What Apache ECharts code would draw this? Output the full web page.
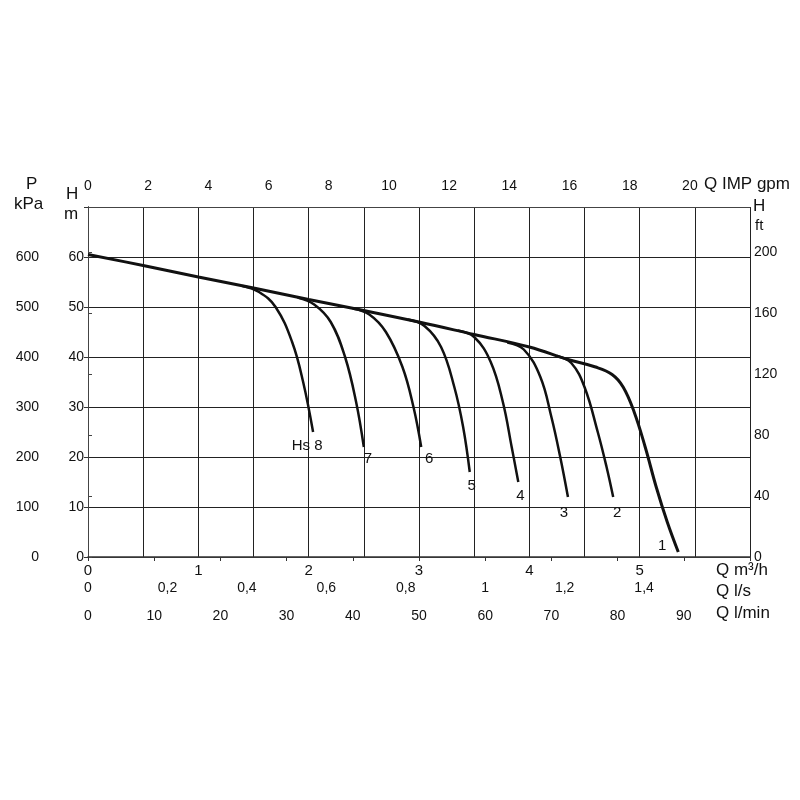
<!DOCTYPE html>
<html>
<head>
<meta charset="utf-8">
<script src="https://cdn.jsdelivr.net/npm/echarts@6/dist/echarts.min.js"></script>
<style>html,body{margin:0;padding:0;background:#fff}#c{width:800px;height:800px}</style>
</head>
<body>
<div id="c"></div>
<script>
// Q in m3/h, H in m
var mainCurve = [[0, 60.5], [0.5, 58.3], [1, 56], [1.5, 53.8], [2, 51.5], [2.5, 49.3], [3, 47], [3.5, 44.5], [4, 42], [4.35, 39.5], [4.6, 38], [4.75, 36.5], [4.85, 34], [4.95, 29], [5.05, 22], [5.15, 14], [5.25, 7], [5.35, 1]];
var branch8 = [[1.4, 54.2], [1.55, 53], [1.7, 50], [1.85, 43], [1.95, 35], [2.04, 25]];
var branch7 = [[1.9, 51.9], [2.05, 50.5], [2.2, 47], [2.33, 40], [2.43, 31], [2.5, 22]];
var branch6 = [[2.4, 49.7], [2.55, 48.5], [2.7, 45], [2.85, 38], [2.95, 30], [3.02, 22]];
var branch5 = [[2.9, 47.5], [3.05, 46.2], [3.2, 42], [3.32, 34], [3.4, 26], [3.46, 17]];
var branch4 = [[3.35, 45.3], [3.5, 44], [3.65, 39], [3.76, 31], [3.84, 22], [3.9, 15]];
var branch3 = [[3.8, 42.9], [3.95, 41.5], [4.1, 36], [4.2, 28], [4.28, 20], [4.35, 12]];
var branch2 = [[4.25, 40.2], [4.38, 38.8], [4.5, 34], [4.62, 25], [4.7, 18], [4.76, 12]];
var branchNames = ['Hs 8', '7', '6', '5', '4', '3', '2'];
var branches = [branch8, branch7, branch6, branch5, branch4, branch3, branch2];

var qMax = 6, hMax = 70;
var m3hToLs = 1 / 3.6, m3hToLmin = 1000 / 60, m3hToGpm = 1 / 0.272765;
var mToKpa = 10, mToFt = 1 / 0.3048;

var txt = {color: '#111', fontFamily: 'Liberation Sans Narrow, Liberation Sans, sans-serif', fontSize: 14};
var labelOffsets = [[-6, 14], [4, 12], [8, 12], [2, 14], [2, 14], [-4, 16], [4, 16]];

function endMark(pt, text, offset) {
    return {symbol: 'circle', symbolSize: 1, itemStyle: {color: 'rgba(0,0,0,0)'},
        data: [{coord: pt, label: {show: true, formatter: text, offset: offset, ...txt, fontSize: 15}}]};
}

var series = [{
    type: 'line', data: mainCurve, smooth: 0.4, symbol: 'none',
    lineStyle: {color: '#111', width: 3},
    markPoint: endMark(mainCurve[mainCurve.length - 1], '1', [-16, -6])
}];
branches.forEach(function (b, i) {
    series.push({
        type: 'line', data: b, smooth: 0.4, symbol: 'none',
        lineStyle: {color: '#111', width: 2.5},
        markPoint: endMark(b[b.length - 1], branchNames[i], labelOffsets[i])
    });
});

function lim(max) {
    return function (v) { return v > max + 1e-9 ? '' : String(+v.toFixed(1)).replace('.', ','); };
}

var chart = echarts.init(document.getElementById('c'));
chart.setOption({
    backgroundColor: '#fff',
    animation: false,
    grid: {left: 88, right: 50, top: 207, bottom: 243},
    xAxis: [
        {type: 'value', min: 0, max: qMax, interval: 0.5, position: 'bottom',
            axisLine: {show: true, lineStyle: {color: '#444'}}, axisTick: {show: false},
            splitLine: {show: true, lineStyle: {color: '#222', width: 1}},
            axisLabel: {formatter: function (v) { return v % 1 === 0 && v < 6 ? v : ''; }, margin: 6, ...txt, fontSize: 15}},
        {type: 'value', min: 0, max: qMax * m3hToLs, interval: 0.2, position: 'bottom', offset: 22,
            axisLine: {show: false}, axisTick: {show: false}, splitLine: {show: false},
            axisLabel: {formatter: lim(1.4), margin: 2, showMaxLabel: false, ...txt}},
        {type: 'value', min: 0, max: qMax * m3hToLmin, interval: 10, position: 'bottom', offset: 45,
            axisLine: {show: true, lineStyle: {color: '#333', width: 1.5}}, axisTick: {show: true, length: 4, lineStyle: {color: '#333'}},
            splitLine: {show: false},
            axisLabel: {formatter: lim(90), margin: 7, ...txt}},
        {type: 'value', min: 0, max: qMax * m3hToGpm, interval: 2, position: 'top',
            axisLine: {show: true, lineStyle: {color: '#444'}}, axisTick: {show: false}, splitLine: {show: false},
            axisLabel: {formatter: lim(20), margin: 14, ...txt}}
    ],
    yAxis: [
        {type: 'value', min: 0, max: hMax, interval: 10, position: 'left',
            axisLine: {show: true, lineStyle: {color: '#444'}}, axisTick: {show: false},
            splitLine: {lineStyle: {color: '#222', width: 1}},
            axisLabel: {formatter: function (v) { return v <= 60 ? v : ''; }, margin: 4, ...txt}},
        {type: 'value', min: 0, max: hMax * mToKpa, interval: 100, position: 'left', offset: 45,
            axisLine: {show: true, lineStyle: {color: '#333'}}, axisTick: {show: true, length: 4},
            splitLine: {show: false},
            axisLabel: {formatter: function (v) { return v <= 600 ? v : ''; }, margin: 4, ...txt}},
        {type: 'value', min: 0, max: hMax * mToFt, interval: 40, position: 'right',
            axisLine: {show: true, lineStyle: {color: '#444'}}, axisTick: {show: true, length: 4},
            splitLine: {show: false},
            axisLabel: {formatter: function (v) { return v <= 200 ? v : ''; }, margin: 4, ...txt}}
    ],
    series: series,
    graphic: [
        {type: 'text', left: 26, top: 176, style: {text: 'P', ...txt, fontSize: 17, fill: '#111'}},
        {type: 'text', left: 14, top: 196, style: {text: 'kPa', ...txt, fontSize: 17, fill: '#111'}},
        {type: 'text', left: 66, top: 186, style: {text: 'H', ...txt, fontSize: 17, fill: '#111'}},
        {type: 'text', left: 64, top: 206, style: {text: 'm', ...txt, fontSize: 17, fill: '#111'}},
        {type: 'text', left: 753, top: 198, style: {text: 'H', ...txt, fontSize: 17, fill: '#111'}},
        {type: 'text', left: 755, top: 218, style: {text: 'ft', ...txt, fontSize: 15, fill: '#111'}},
        {type: 'text', left: 704, top: 176, style: {text: 'Q IMP gpm', ...txt, fontSize: 17, fill: '#111'}},
        {type: 'text', left: 716, top: 562, style: {text: 'Q m³/h', ...txt, fontSize: 17, fill: '#111'}},
        {type: 'text', left: 716, top: 583, style: {text: 'Q l/s', ...txt, fontSize: 17, fill: '#111'}},
        {type: 'text', left: 716, top: 605, style: {text: 'Q l/min', ...txt, fontSize: 17, fill: '#111'}}
    ]
});
</script>
</body>
</html>
